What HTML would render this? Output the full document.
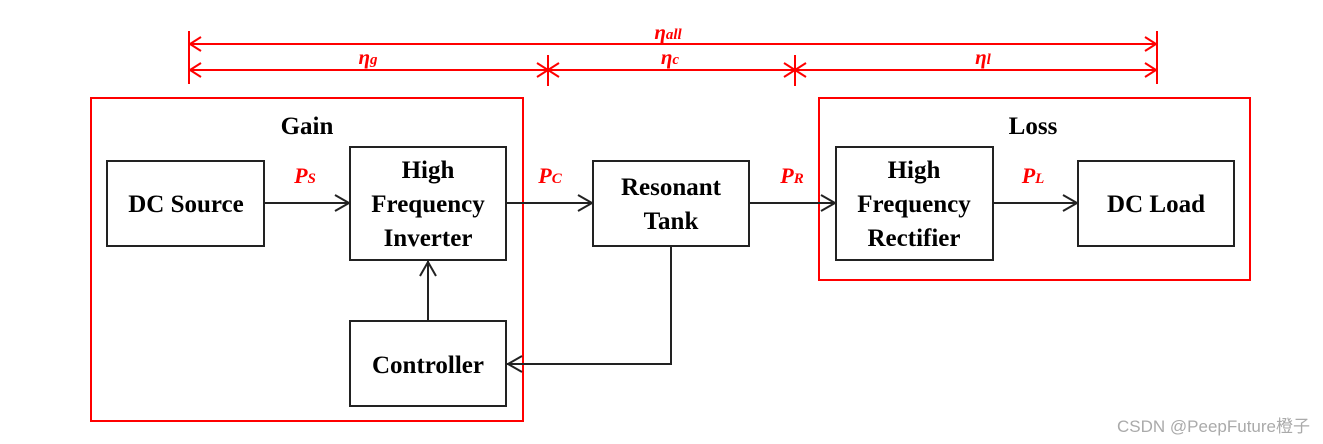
<!DOCTYPE html>
<html><head><meta charset="utf-8"><style>
html,body{margin:0;padding:0;background:#fff;}
svg{display:block;}
.t{font-family:"Liberation Serif",serif;font-weight:bold;font-size:25px;fill:#000;text-anchor:middle;}
.r{font-family:"Liberation Serif",serif;font-weight:bold;font-style:italic;fill:#f00;text-anchor:middle;}
</style></head><body>
<svg width="1323" height="444" viewBox="0 0 1323 444">
<g stroke="#f00" stroke-width="2" fill="none">
<line x1="189" y1="44" x2="1157" y2="44"/>
<line x1="189" y1="70" x2="1157" y2="70"/>
<line x1="189" y1="31" x2="189" y2="84"/>
<line x1="1157" y1="31" x2="1157" y2="84"/>
<line x1="548" y1="55" x2="548" y2="86"/>
<line x1="795" y1="55" x2="795" y2="86"/>
<polyline points="201,37 190,44 201,51"/>
<polyline points="201,63 190,70 201,77"/>
<polyline points="1145,37 1156,44 1145,51"/>
<polyline points="1145,63 1156,70 1145,77"/>
<polyline points="537,63 548,70 537,77"/><polyline points="559,63 548,70 559,77"/>
<polyline points="784,63 795,70 784,77"/><polyline points="806,63 795,70 806,77"/>
<rect x="91" y="98" width="432" height="323"/>
<rect x="819" y="98" width="431" height="182"/>
</g>
<text class="r" x="668" y="39" font-size="21">η<tspan font-size="15">all</tspan></text>
<text class="r" x="368" y="64" font-size="21">η<tspan font-size="15">g</tspan></text>
<text class="r" x="670" y="64" font-size="21">η<tspan font-size="15">c</tspan></text>
<text class="r" x="983" y="64" font-size="21">η<tspan font-size="15">l</tspan></text>
<g stroke="#222" stroke-width="2" fill="#fff">
<rect x="107" y="161" width="157" height="85"/>
<rect x="350" y="147" width="156" height="113"/>
<rect x="593" y="161" width="156" height="85"/>
<rect x="836" y="147" width="157" height="113"/>
<rect x="1078" y="161" width="156" height="85"/>
<rect x="350" y="321" width="156" height="85"/>
</g>
<g stroke="#222" stroke-width="2" fill="none">
<line x1="264" y1="203" x2="350" y2="203"/><polyline points="335,195 349,203 335,211"/>
<line x1="506" y1="203" x2="593" y2="203"/><polyline points="578,195 592,203 578,211"/>
<line x1="749" y1="203" x2="836" y2="203"/><polyline points="821,195 835,203 821,211"/>
<line x1="993" y1="203" x2="1078" y2="203"/><polyline points="1063,195 1077,203 1063,211"/>
<line x1="428" y1="321" x2="428" y2="261"/><polyline points="420,276 428,262 436,276"/>
<polyline points="671,246 671,364 507,364"/><polyline points="522,356 508,364 522,372"/>
</g>
<text class="t" x="307" y="134">Gain</text>
<text class="t" x="1033" y="134">Loss</text>
<text class="t" x="186" y="212">DC Source</text>
<text class="t" x="428" y="178">High</text>
<text class="t" x="428" y="212">Frequency</text>
<text class="t" x="428" y="246">Inverter</text>
<text class="t" x="671" y="195">Resonant</text>
<text class="t" x="671" y="229">Tank</text>
<text class="t" x="914" y="178">High</text>
<text class="t" x="914" y="212">Frequency</text>
<text class="t" x="914" y="246">Rectifier</text>
<text class="t" x="1156" y="212">DC Load</text>
<text class="t" x="428" y="373">Controller</text>
<text class="r" x="305" y="183" font-size="22">P<tspan font-size="15">S</tspan></text>
<text class="r" x="550" y="183" font-size="22">P<tspan font-size="15">C</tspan></text>
<text class="r" x="792" y="183" font-size="22">P<tspan font-size="15">R</tspan></text>
<text class="r" x="1033" y="183" font-size="22">P<tspan font-size="15">L</tspan></text>
<text x="1310" y="432" font-family="'Liberation Sans','Noto Sans CJK SC',sans-serif" font-size="17" fill="#aaa" text-anchor="end">CSDN @PeepFuture橙子</text>
</svg>
</body></html>
